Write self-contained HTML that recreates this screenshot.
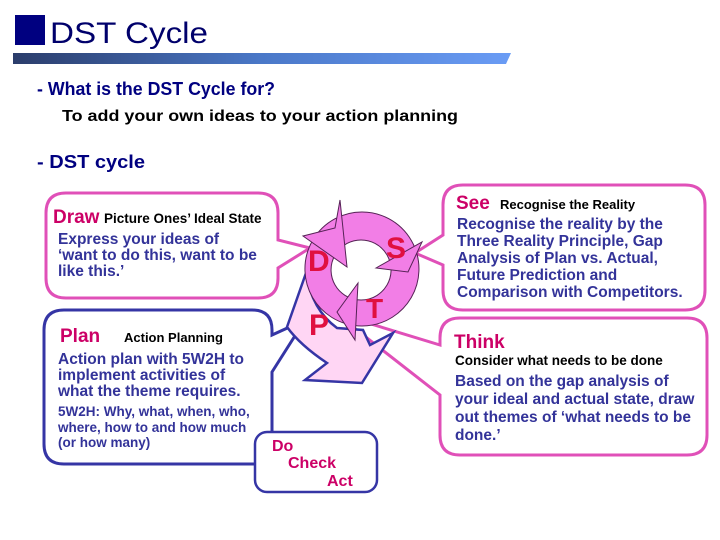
<!DOCTYPE html>
<html><head><meta charset="utf-8"><style>
body{margin:0;background:#fff}
svg{display:block;font-family:"Liberation Sans",sans-serif;font-weight:bold}
</style></head><body>
<svg width="720" height="540" viewBox="0 0 720 540" xmlns="http://www.w3.org/2000/svg">
<defs><linearGradient id="g" x1="0" x2="1"><stop offset="0" stop-color="#2b3d6b"/><stop offset="0.5" stop-color="#4a78c8"/><stop offset="1" stop-color="#6a9cf5"/></linearGradient></defs>
<rect x="15" y="15" width="30" height="30" fill="#000080"/>
<text x="50" y="43" font-size="30" fill="#00006b" textLength="158" lengthAdjust="spacingAndGlyphs" style="font-weight:normal">DST Cycle</text>
<polygon points="13,53 511,53 506,64 13,64" fill="url(#g)"/>
<text x="37" y="95" font-size="18" fill="#000080" textLength="238" lengthAdjust="spacingAndGlyphs">- What is the DST Cycle for?</text>
<text x="62" y="121" font-size="16" fill="#000" textLength="396" lengthAdjust="spacingAndGlyphs">To add your own ideas to your action planning</text>
<text x="37" y="168" font-size="18" fill="#000080" textLength="108" lengthAdjust="spacingAndGlyphs">- DST cycle</text>

<path d="M66,193 H258 Q278,193 278,213 V240 L310,248 L278,268 V278 Q278,298 258,298 H66 Q46,298 46,278 V213 Q46,193 66,193 Z" fill="#fff" stroke="#e050b8" stroke-width="3"/>
<path d="M64,310 H252 Q272,310 272,330 V335 L305,320 L272,372 V444 Q272,464 252,464 H64 Q44,464 44,444 V330 Q44,310 64,310 Z" fill="#fff" stroke="#3535a5" stroke-width="3"/>
<path d="M463,185 H685 Q705,185 705,205 V290 Q705,310 685,310 H463 Q443,310 443,290 V265 L415,253 L443,235 V205 Q443,185 463,185 Z" fill="#fff" stroke="#e050b8" stroke-width="3"/>
<path d="M460,318 H687 Q707,318 707,338 V435 Q707,455 687,455 H460 Q440,455 440,435 V395 L335,313 L440,345 V338 Q440,318 460,318 Z" fill="#fff" stroke="#e050b8" stroke-width="3"/>

<path d="M306,273 Q312,310 337,328 L363,330 L370,345 L393,333 L362,383 L305,380 L327,363 Q300,345 287,327 Z" fill="#ffd6f4" stroke="#3535a5" stroke-width="2.5"/>
<path fill-rule="evenodd" d="M362,212 A57,57 0 1,1 361.9,212 Z M361,240 A30,30 0 1,0 361.1,240 Z" fill="#f27ee6" stroke="#552255" stroke-width="1"/>
<polygon points="303,236 335,228 340,200 347,267" fill="#f27ee6" stroke="#552255" stroke-width="1"/>
<polygon points="376,268 422,242 408,272" fill="#f27ee6" stroke="#552255" stroke-width="1"/>
<polygon points="358,283 337,312 355,340" fill="#f27ee6" stroke="#552255" stroke-width="1"/>
<text x="308" y="271" font-size="30" fill="#e01040">D</text>
<text x="386" y="258" font-size="30" fill="#e01040">S</text>
<text x="309" y="335" font-size="30" fill="#e01040">P</text>
<text x="366" y="318" font-size="28" fill="#e01040">T</text>

<rect x="255" y="432" width="122" height="60" rx="12" fill="#fff" stroke="#3535a5" stroke-width="2.5"/>
<g fill="#cc0066" font-size="16"><text x="272" y="451">Do</text><text x="288" y="468">Check</text><text x="327" y="486">Act</text></g>

<g fill="#cc0066" font-size="19"><text x="53" y="223">Draw</text><text x="60" y="342">Plan</text><text x="456" y="209">See</text><text x="454" y="348">Think</text></g>
<g fill="#000" font-size="13"><text x="104" y="223" font-size="13.5">Picture Ones’ Ideal State</text><text x="124" y="342">Action Planning</text><text x="500" y="209">Recognise the Reality</text><text x="455" y="365" font-size="13.5">Consider what needs to be done</text></g>
<g fill="#333399" font-size="15.5">
<text x="58" y="244">Express your ideas of</text><text x="58" y="260">‘want to do this, want to be</text><text x="58" y="276">like this.’</text>
<text x="58" y="364">Action plan with 5W2H to</text><text x="58" y="380">implement activities of</text><text x="58" y="396">what the theme requires.</text>
<text x="58" y="416" font-size="13.5">5W2H: Why, what, when, who,</text><text x="58" y="432" font-size="13.5">where, how to and how much</text><text x="58" y="447" font-size="13.5">(or how many)</text>
<text x="457" y="229">Recognise the reality by the</text><text x="457" y="246">Three Reality Principle, Gap</text><text x="457" y="263">Analysis of Plan vs. Actual,</text><text x="457" y="280">Future Prediction and</text><text x="457" y="297">Comparison with Competitors.</text>
<text x="455" y="386">Based on the gap analysis of</text><text x="455" y="404">your ideal and actual state, draw</text><text x="455" y="422">out themes of ‘what needs to be</text><text x="455" y="440">done.’</text>
</g>
</svg>
</body></html>
